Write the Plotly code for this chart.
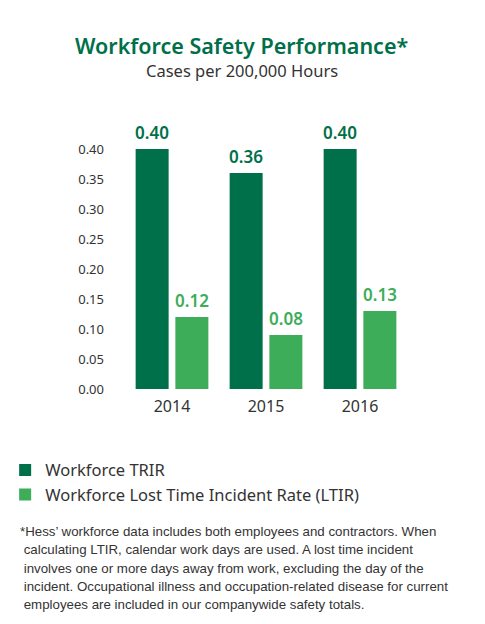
import plotly.graph_objects as go

# data
years = ["2014", "2015", "2016"]
trir = [0.40, 0.36, 0.40]
ltir = [0.12, 0.09, 0.13]
trir_labels = ["0.40", "0.36", "0.40"]
ltir_labels = ["0.12", "0.08", "0.13"]
y_ticks = [0.00, 0.05, 0.10, 0.15, 0.20, 0.25, 0.30, 0.35, 0.40]

note_lines = [
    "*Hess\u2019 workforce data includes both employees and contractors. When",
    "\u00a0calculating LTIR, calendar work days are used. A lost time incident",
    "\u00a0involves one or more days away from work, excluding the day of the",
    "\u00a0incident. Occupational illness and occupation-related disease for current",
    "\u00a0employees are included in our companywide safety totals.",
]

dark_green = "#00704A"
light_green = "#3DAD5A"
txt_grey = "#333333"
main_font = "Noto Sans, Open Sans, sans-serif"
note_font = "Liberation Sans, Arial, sans-serif"

# page body adds an 8px margin, so the figure is drawn 8px smaller
W, H = 477, 616
top, bottom = 111.3, 381.3      # plot area in px
plot_h = bottom - top

fig = go.Figure()
fig.add_trace(go.Bar(x=years, y=trir, name="Workforce TRIR",
                     marker=dict(color=dark_green, line=dict(width=0))))
fig.add_trace(go.Bar(x=years, y=ltir, name="Workforce Lost Time Incident Rate (LTIR)",
                     marker=dict(color=light_green, line=dict(width=0))))

# value labels above each bar (category axis -> annotation x is the serial index)
for i, (v, lab) in enumerate(zip(trir, trir_labels)):
    fig.add_annotation(x=i, y=v, text=lab, showarrow=False, yanchor="bottom",
                       xshift=-19.8, yshift=3,
                       font=dict(family=main_font, size=17, color=dark_green, weight=600))
for i, (v, lab) in enumerate(zip(ltir, ltir_labels)):
    fig.add_annotation(x=i, y=v, text=lab, showarrow=False, yanchor="bottom",
                       xshift=19.8, yshift=3,
                       font=dict(family=main_font, size=17, color=light_green, weight=600))

# title + subtitle
fig.add_annotation(xref="paper", yref="paper", x=0.414, y=1.273, yanchor="middle",
                   text="Workforce Safety Performance*", showarrow=False,
                   font=dict(family=main_font, size=21.5, color=dark_green, weight=600))
fig.add_annotation(xref="paper", yref="paper", x=0.414, y=1.179, yanchor="middle",
                   text="Cases per 200,000 Hours", showarrow=False,
                   font=dict(family=main_font, size=16.5, color=txt_grey))

# footnote, one annotation per line so the spacing can be set
for i, line in enumerate(note_lines):
    yc = 523.7 + i * 18.3
    fig.add_annotation(xref="paper", yref="paper", x=-0.378, y=(bottom - yc) / plot_h,
                       xanchor="left", yanchor="middle", align="left", showarrow=False,
                       text=line,
                       font=dict(family=note_font, size=13.3, color=txt_grey))

fig.update_layout(
    width=W, height=H,
    margin=dict(l=117.3, r=77.7, t=top, b=H - bottom, autoexpand=False),
    paper_bgcolor="white", plot_bgcolor="white",
    barmode="group", bargap=0.155, bargroupgap=0.169,
    showlegend=True,
    legend=dict(x=-0.425, y=-0.236, xanchor="left", yanchor="top",
                font=dict(family=main_font, size=16.5, color=txt_grey),
                bgcolor="rgba(0,0,0,0)", borderwidth=0, traceorder="normal"),
    xaxis=dict(type="category", showgrid=False, zeroline=False, showline=False, ticks="",
               ticklabelstandoff=6,
               tickfont=dict(family=main_font, size=16, color=txt_grey)),
    yaxis=dict(range=[0, 0.45], showgrid=False, zeroline=False, showline=False,
               tickvals=y_ticks, tickformat=".2f", ticks="", ticklabelstandoff=20,
               tickfont=dict(family=main_font, size=13, color=txt_grey)),
)

fig.write_html("out.html")
